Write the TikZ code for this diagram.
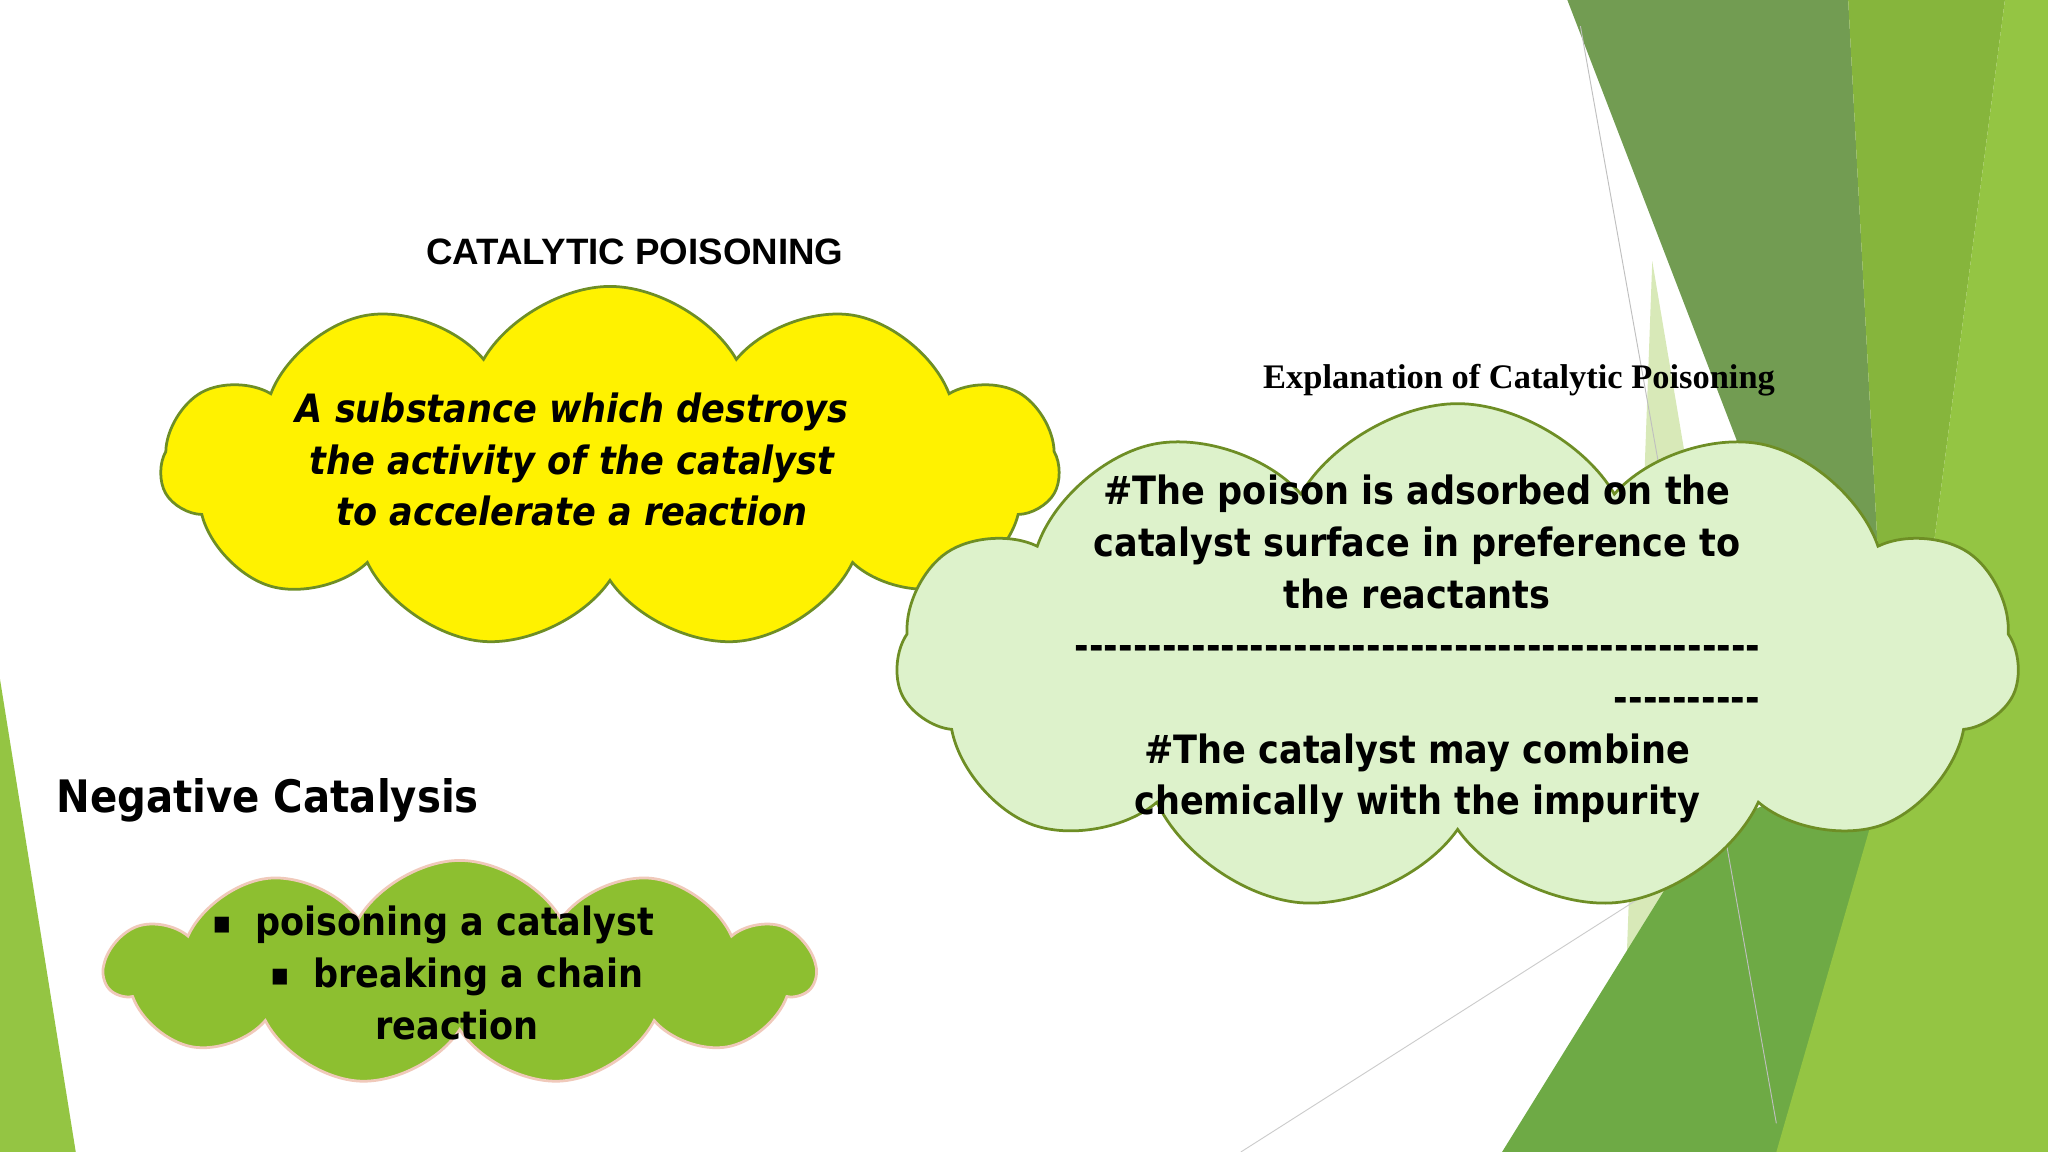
\documentclass[tikz,border=0pt]{standalone}
\usepackage{fontspec}
\setmainfont{DejaVu Sans Condensed}
\newfontfamily\arialf{Liberation Sans}
\newfontfamily\timesf{Liberation Serif}
\usetikzlibrary{shapes.symbols}
\definecolor{olivedge}{HTML}{6E8E25}
\definecolor{paleg}{HTML}{DDF2CB}
\definecolor{midg}{HTML}{8DBF30}
\definecolor{bandA}{HTML}{729C52}
\definecolor{bandB}{HTML}{86B53C}
\definecolor{bandC}{HTML}{94C543}
\definecolor{bandD}{HTML}{6EAA45}
\definecolor{bandE}{HTML}{D8E9B8}
\newcommand\dashrow[1]{\foreach \i in {1,...,#1}{-}}
\newcommand\sqb{\raisebox{0.25ex}{\fontsize{9}{9}\selectfont ■}}
\begin{document}
\begin{tikzpicture}[x=0.02cm,y=-0.02cm,
  cloudbox/.style={cloud,cloud puffs=11,cloud puff arc=120,cloud ignores aspect,draw=olivedge,line width=1.2pt,inner sep=0pt},
  txt/.style={align=center,font=\bfseries\fontsize{17}{22.5}\selectfont}]
\useasboundingbox (0,0) rectangle (1568,882);
\fill[white] (0,0) rectangle (1568,882);
% right decoration
\fill[bandE] (1265,200) -- (1380,882) -- (1240,882) -- cycle;
\fill[bandA] (1200,0) -- (1415,0) -- (1450,650) -- cycle;
\fill[bandB] (1415,0) -- (1535,0) -- (1450,650) -- cycle;
\fill[bandC] (1535,0) -- (1568,0) -- (1568,570) -- (1450,650) -- cycle;
\fill[bandD] (1300,640) -- (1450,570) -- (1400,882) -- (1150,882) -- cycle;
\fill[bandC] (1450,570) -- (1568,520) -- (1568,882) -- (1360,882) -- cycle;
\draw[gray!50] (1210,20) -- (1360,860);
\draw[gray!40] (950,882) -- (1330,640);
% left decoration
\fill[bandC] (0,520) -- (58,882) -- (0,882) -- cycle;
% titles
\node (t1) at (486,193) {\arialf\bfseries\fontsize{16}{20}\selectfont CATALYTIC POISONING};
\node (t2) at (1163,291) {\timesf\bfseries\fontsize{15}{20}\selectfont Explanation of Catalytic Poisoning};
\node[anchor=west] (t3) at (37,613) {\bfseries\fontsize{19.5}{26}\selectfont Negative Catalysis};
% clouds
\node[cloudbox,fill=yellow,minimum width=13.75cm,minimum height=5.55cm] (c1) at (467,358) {};
\node[txt,font=\bfseries\itshape\fontsize{17}{22.5}\selectfont] (c1t) at (438,352)
 {A substance which destroys\\ the activity of the catalyst\\ to accelerate a reaction};
\node[cloudbox,fill=paleg,minimum width=17.2cm,minimum height=7.8cm] (c2) at (1116,504) {};
\node[txt] (c2t) at (1085,497)
 {\#The poison is adsorbed on the\\ catalyst surface in preference to\\ the reactants\\ \dashrow{47}\\ \hfill\dashrow{10}\\ \#The catalyst may combine\\ chemically with the impurity};
\node[cloudbox,fill=midg,draw=pink!60!brown!60,minimum width=10.85cm,minimum height=3.45cm] (c3) at (352,745) {};
\node[txt] (c3t) at (350,745)
 {\hspace*{-1.2em}\sqb\ \ poisoning a catalyst\\ \sqb\ \ breaking a chain\\ reaction};
\end{tikzpicture}
\end{document}
